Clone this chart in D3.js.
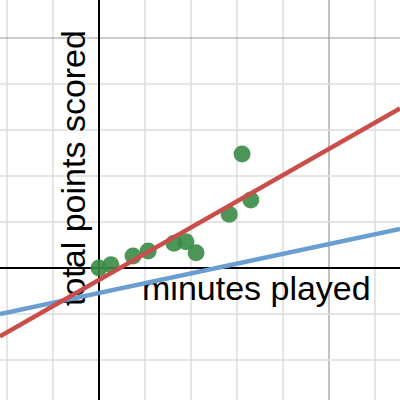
<!DOCTYPE html>
<html>
<head>
<meta charset="utf-8">
<script src="https://cdn.jsdelivr.net/npm/d3@7"></script>
<style>body{margin:0;background:#fff}svg{display:block}</style>
</head>
<body>
<svg width="400" height="400"></svg>
<script>
var minutes = [0, 0.26, 0.74, 1.07, 1.63, 1.89, 2.11, 2.83, 3.11, 3.30]
var points = [0, 0.07, 0.26, 0.37, 0.54, 0.57, 0.33, 1.17, 2.48, 1.48]
var redLine = {slope: 0.57, intercept: -0.26}
var blueLine = {slope: 0.2125, intercept: -0.543}

var svg = d3.select('svg')
var x = d3.scaleLinear().domain([-99 / 46, 301 / 46]).range([0, 400])
var y = d3.scaleLinear().domain([-132 / 46, 268 / 46]).range([400, 0])

// grid
d3.range(-2, 7).forEach(function(v) {
  svg.append('line').attr('x1', x(v)).attr('x2', x(v)).attr('y1', 0).attr('y2', 400)
    .attr('stroke', v % 5 === 0 ? '#999' : '#ddd').attr('stroke-width', v % 5 === 0 ? 1.2 : 1.5)
})
d3.range(-2, 6).forEach(function(v) {
  svg.append('line').attr('y1', y(v)).attr('y2', y(v)).attr('x1', 0).attr('x2', 400)
    .attr('stroke', v % 5 === 0 ? '#999' : '#ddd').attr('stroke-width', v % 5 === 0 ? 1.2 : 1.5)
})

// axes
svg.append('line').attr('x1', 0).attr('x2', 400).attr('y1', y(0)).attr('y2', y(0))
  .attr('stroke', '#000').attr('stroke-width', 2)
svg.append('line').attr('x1', x(0)).attr('x2', x(0)).attr('y1', 0).attr('y2', 400)
  .attr('stroke', '#000').attr('stroke-width', 2)

// labels
svg.append('text').attr('x', 142).attr('y', 300)
  .attr('font-family', 'Liberation Sans, Arial, sans-serif').attr('font-size', 34)
  .text('minutes played')
svg.append('text').attr('transform', 'translate(85,306) rotate(-90)')
  .attr('font-family', 'Liberation Sans, Arial, sans-serif').attr('font-size', 34)
  .text('total points scored')

// points
minutes.forEach(function(m, i) {
  svg.append('circle').attr('cx', x(m)).attr('cy', y(points[i])).attr('r', 8.5)
    .attr('fill', '#388c46').attr('fill-opacity', 0.9)
})

// lines
;[[blueLine, '#6a9ed0'], [redLine, '#c94d4a']].forEach(function(d) {
  var x0 = x.domain()[0], x1 = x.domain()[1]
  svg.append('line')
    .attr('x1', x(x0)).attr('y1', y(d[0].slope * x0 + d[0].intercept))
    .attr('x2', x(x1)).attr('y2', y(d[0].slope * x1 + d[0].intercept))
    .attr('stroke', d[1]).attr('stroke-width', 4.5)
})
</script>
</body>
</html>
